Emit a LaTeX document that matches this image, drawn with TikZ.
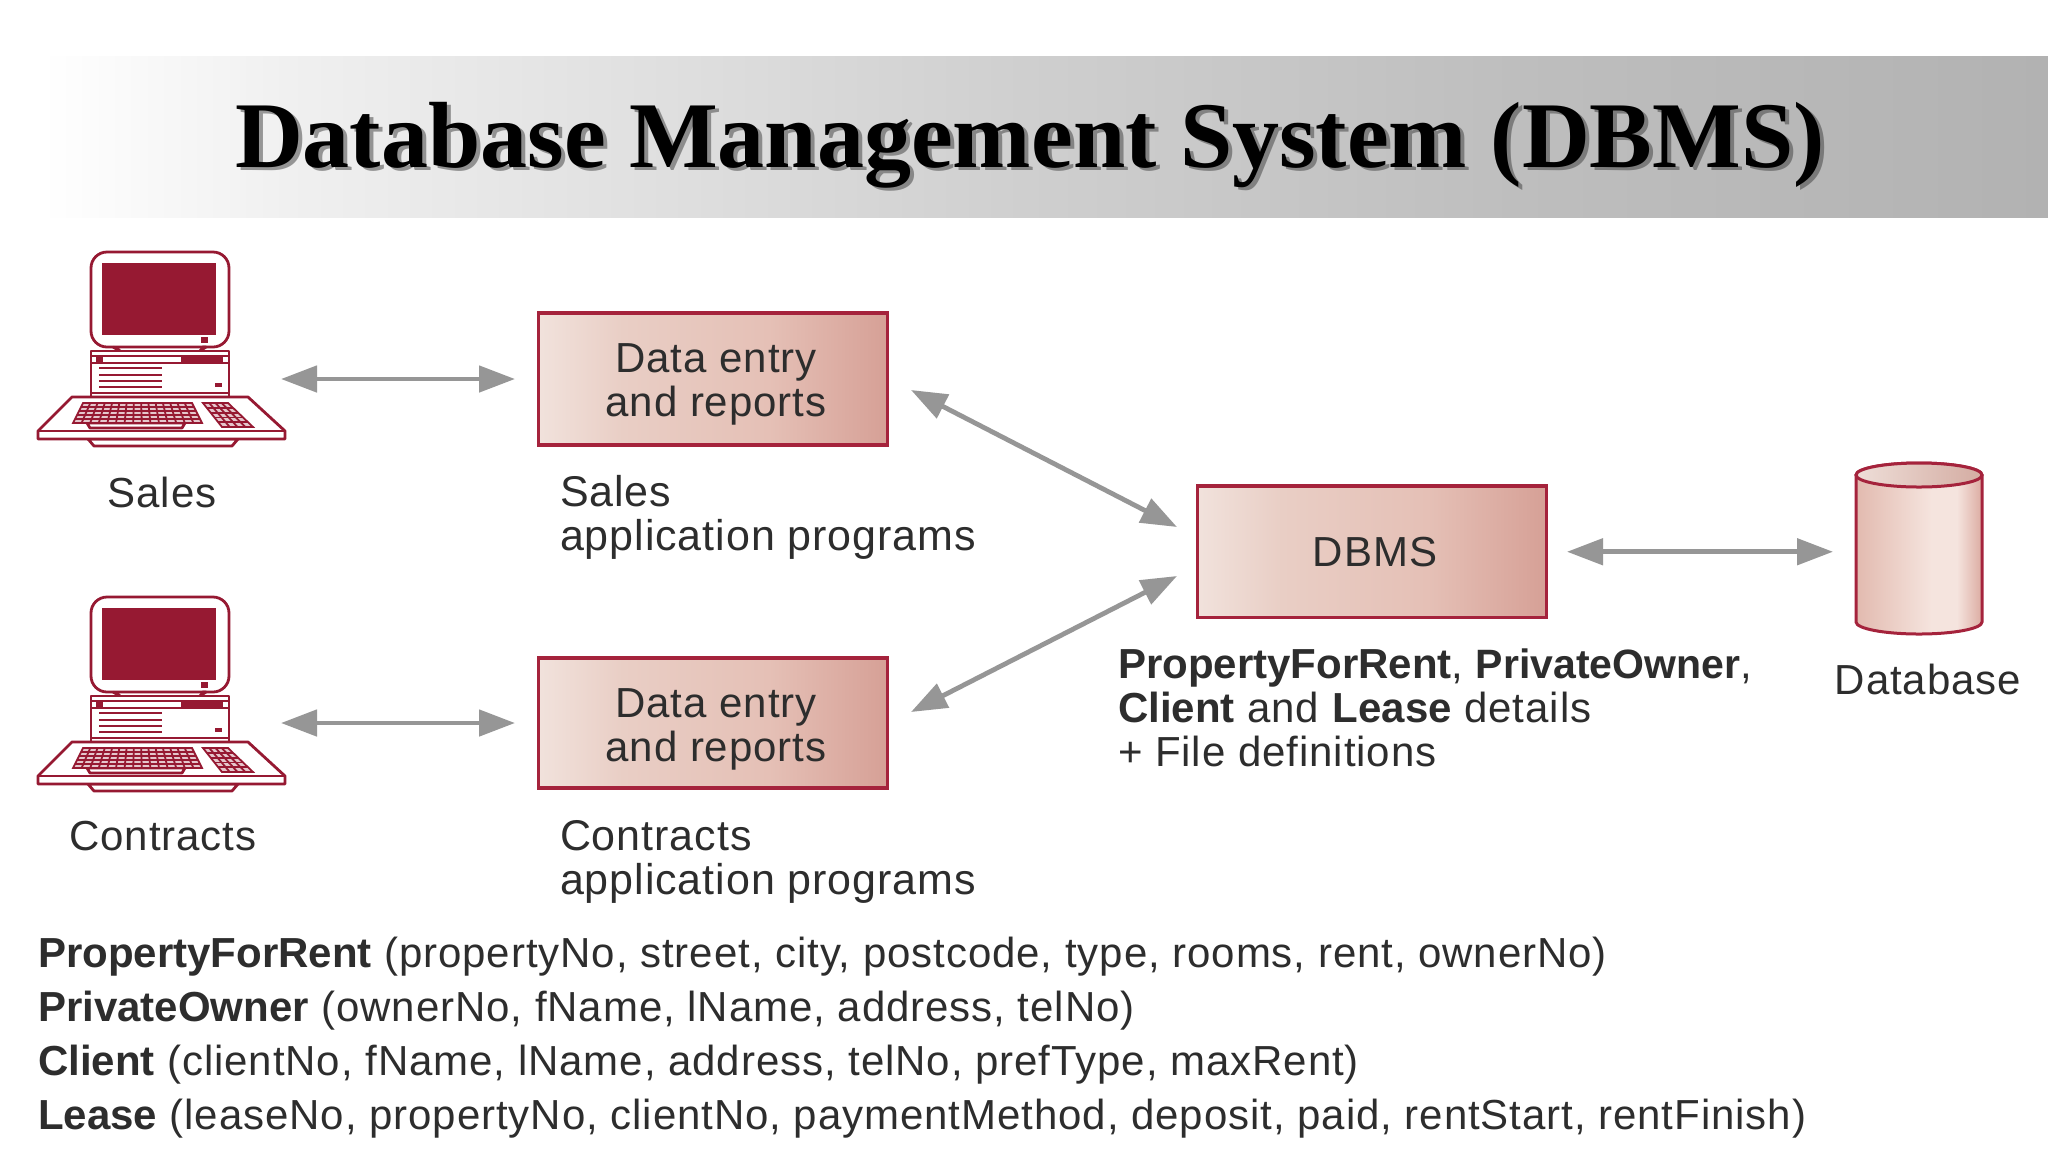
\documentclass[tikz,border=0pt]{standalone}
\usepackage{fontspec}
\setmainfont{Liberation Sans}[LetterSpace=2.2,BoldFeatures={LetterSpace=0}]
\newfontfamily\titlefont{Liberation Serif}
\usetikzlibrary{arrows.meta}
\definecolor{crim}{RGB}{150,25,50}
\definecolor{boxline}{RGB}{165,35,60}
\definecolor{arrowgray}{RGB}{150,150,150}
\definecolor{txt}{RGB}{45,45,45}
\definecolor{bandshadow}{RGB}{60,60,60}
\definecolor{g0}{RGB}{255,255,255}
\definecolor{g01}{RGB}{240,240,240}
\definecolor{g1}{RGB}{207,207,207}
\definecolor{g15}{RGB}{190,190,190}
\definecolor{g2}{RGB}{178,178,178}
\pgfdeclarehorizontalshading{bandsh}{100bp}{color(0bp)=(g0); color(26bp)=(g0); color(32bp)=(g01); color(50bp)=(g1); color(62bp)=(g15); color(75bp)=(g2); color(100bp)=(g2)}
\definecolor{b0}{RGB}{241,226,220}
\definecolor{b1}{RGB}{233,206,197}
\definecolor{b2}{RGB}{229,192,182}
\definecolor{b3}{RGB}{214,160,150}
\pgfdeclarehorizontalshading{boxsh}{100bp}{color(0bp)=(b0); color(25bp)=(b0); color(37bp)=(b1); color(58bp)=(b2); color(75bp)=(b3); color(100bp)=(b3)}
\definecolor{c0}{RGB}{226,186,175}
\definecolor{c1}{RGB}{245,228,222}
\definecolor{c2}{RGB}{220,172,162}
\pgfdeclarehorizontalshading{cylsh}{100bp}{color(0bp)=(c0); color(25bp)=(c0); color(55bp)=(c1); color(65bp)=(c1); color(75bp)=(c2); color(100bp)=(c2)}
\definecolor{t0}{RGB}{238,222,216}
\definecolor{t1}{RGB}{212,172,162}
\pgfdeclarehorizontalshading{cyltop}{100bp}{color(0bp)=(t0); color(25bp)=(t0); color(75bp)=(t1); color(100bp)=(t1)}
\tikzset{
  every node/.style={inner sep=0pt,outer sep=0pt,text=txt},
  procbox/.style={draw=boxline,line width=1.8pt,shading=boxsh,minimum width=174.5pt,anchor=north west},
  lbl/.style={font=\fontsize{21}{22}\selectfont,anchor=base west,align=left},
  applbl/.style={font=\fontsize{21.5}{22}\selectfont,anchor=base west,align=left},
  clbl/.style={font=\fontsize{21}{22}\selectfont,anchor=base,align=center},
  listline/.style={font=\fontsize{21}{22}\selectfont,anchor=base west},
  titletext/.style={anchor=base,font=\titlefont\bfseries\fontsize{47}{50}\selectfont},
  duo/.style={line width=2.4pt,draw=arrowgray,{Triangle[length=18pt,width=13pt,fill=arrowgray]}-{Triangle[length=18pt,width=13pt,fill=arrowgray]}},
  pcline/.style={draw=crim,line width=1.4pt,fill=white,line join=round},
  pcthin/.style={draw=crim,line width=.9pt},
  pics/computer/.style={code={
    \path[pcline,rounded corners=8pt] (91,252) rectangle (229,347);
    \fill[crim] (102,263) rectangle (216,335);
    \fill[crim] (201,337) rectangle (208,343);
    \path[pcline] (113,347) -- (120,351) -- (116,347);
    \path[pcline] (200,351) -- (206,347) -- (203,347) -- cycle;
    \path[pcline] (91,351) rectangle (229,397);
    \draw[pcthin] (91,356) -- (229,356);
    \draw[pcthin] (91,363) -- (229,363);
    \fill[crim] (96,357) rectangle (103,362);
    \fill[crim] (181,357) rectangle (223,362);
    \foreach \yy in {368,375,381,387} \draw[draw=crim,line width=1pt] (99,\yy) -- (162,\yy);
    \fill[crim] (215,383) rectangle (222,387);
    \draw[pcthin] (91,393) -- (229,393);
    \path[pcline] (88,439) -- (94,446) -- (232,446) -- (238,439) -- cycle;
    \path[pcline] (72,397) -- (248,397) -- (285,431) -- (285,439) -- (38,439) -- (38,431) -- cycle;
    \draw[pcthin] (38,431) -- (285,431);
    \path[pcline] (87,423) -- (90,428) -- (182,428) -- (185,423) -- cycle;
    \fill[crim!25] (83,403) -- (192,403) -- (202,423) -- (73,423) -- cycle;
    \draw[pcthin] (83,403) -- (192,403) -- (202,423) -- (73,423) -- cycle;
    \foreach \i in {1,...,14} {\pgfmathsetmacro{\xa}{83+\i*109/15}\pgfmathsetmacro{\xb}{73+\i*129/15}\draw[pcthin] (\xa,403) -- (\xb,423);}
    \foreach \j in {1,...,4} {\pgfmathsetmacro{\xa}{83-\j*2}\pgfmathsetmacro{\xb}{192+\j*2}\pgfmathsetmacro{\yc}{403+\j*4}\draw[pcthin] (\xa,\yc) -- (\xb,\yc);}
    \fill[crim!25] (203,403) -- (228,403) -- (253,427) -- (222,427) -- cycle;
    \draw[pcthin] (203,403) -- (228,403) -- (253,427) -- (222,427) -- cycle;
    \foreach \i in {1,2,3} {\pgfmathsetmacro{\xa}{203+\i*25/4}\pgfmathsetmacro{\xb}{222+\i*31/4}\draw[pcthin] (\xa,403) -- (\xb,427);}
    \foreach \j in {1,...,4} {\pgfmathsetmacro{\xa}{203+\j*19/5}\pgfmathsetmacro{\xb}{228+\j*5}\pgfmathsetmacro{\yc}{403+\j*24/5}\draw[pcthin] (\xa,\yc) -- (\xb,\yc);}
  }}
}
\begin{document}
\begin{tikzpicture}[x=.5pt,y=-.5pt]
\useasboundingbox (0,0) rectangle (2048,1152);
\fill[white] (0,0) rectangle (2048,1152);
% title band
\shade[shading=bandsh] (0,56) rectangle (2048,217);
\node[titletext,text=bandshadow,opacity=.5] at (1034,170) {Database Management System (DBMS)};
\node[titletext,text=black] (title) at (1030,167) {Database Management System (DBMS)};
% computers
\pic at (0,0) {computer};
\pic at (0,345) {computer};
\node[minimum width=123.5pt,minimum height=24pt] (pcA) at (161.5,379) {};
\node[minimum width=123.5pt,minimum height=24pt] (pcB) at (161.5,723) {};
% boxes
\node[procbox,minimum height=66pt] (boxA) at (538.5,313) {};
\node[procbox,minimum height=65pt] (boxB) at (538.5,658) {};
\node[procbox,minimum height=65.75pt] (dbms) at (1197.5,486) {};
\node[clbl] at (716,416) {Data entry\\and reports};
\node[clbl] at (716,761) {Data entry\\and reports};
\node[clbl] at (1375,566) {DBMS};
% database
\path[draw=boxline,line width=1.5pt,shading=cylsh] (1856,475) -- (1856,622) arc[start angle=180,end angle=0,x radius=63,y radius=12] -- (1982,475) arc[start angle=0,end angle=-180,x radius=63,y radius=12] -- cycle;
\path[draw=boxline,line width=1.5pt,shading=cyltop] (1919,475) ellipse[x radius=63,y radius=12];
\node[minimum width=63pt,minimum height=85pt] (db) at (1919,551.75) {};
% labels
\node[clbl] at (162,507) {Sales};
\node[clbl] at (163,850) {Contracts};
\node[applbl] at (560,550) {Sales\\application programs};
\node[applbl] at (560,894) {Contracts\\application programs};
\node[lbl] at (1118,766) {\textbf{PropertyForRent}, {\fontsize{20.5}{22}\selectfont\bfseries PrivateOwner},\\\textbf{Client} and \textbf{Lease} details\\+ File definitions};
\node[clbl] at (1928,694) {Database};
\node[listline] at (38,967) {\textbf{PropertyForRent} (propertyNo, street, city, postcode, type, rooms, rent, ownerNo)};
\node[listline] at (38,1021) {\textbf{PrivateOwner} (ownerNo, fName, lName, address, telNo)};
\node[listline] at (38,1075) {\textbf{Client} (clientNo, fName, lName, address, telNo, prefType, maxRent)};
\node[listline] at (38,1129) {\textbf{Lease} (leaseNo, propertyNo, clientNo, paymentMethod, deposit, paid, rentStart, rentFinish)};
% connectors
\coordinate (aa) at (911,390);
\coordinate (ab) at (1177,527);
\coordinate (ba) at (911,712);
\coordinate (bb) at (1177,576);
\draw[duo,shorten <=-2pt,shorten >=11.75pt] (pcA.east) -- (boxA.west);
\draw[duo,shorten <=-2pt,shorten >=11.75pt] (pcB.east) -- (boxB.west);
\draw[duo] (aa) -- (ab);
\draw[duo] (ba) -- (bb);
\draw[duo,shorten <=10.25pt,shorten >=11.5pt] (dbms.east) -- (db.west);
\end{tikzpicture}
\end{document}
